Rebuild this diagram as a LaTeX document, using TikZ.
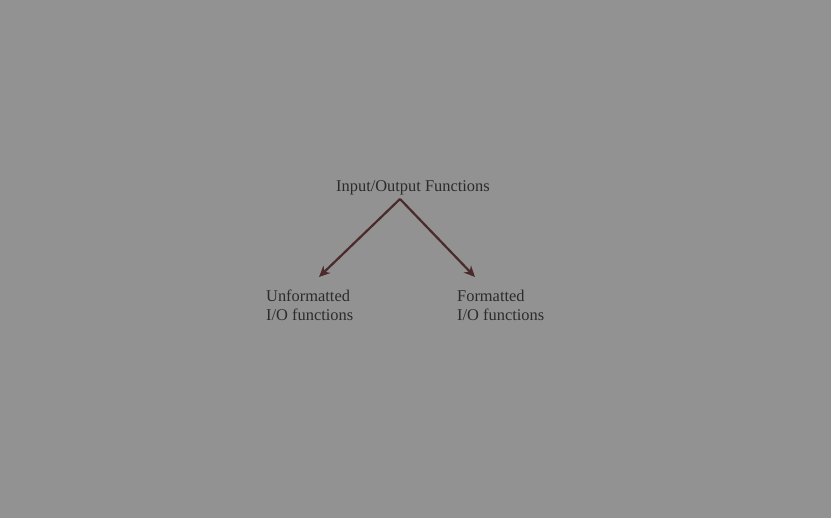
\documentclass[tikz,border=0pt]{standalone}
\usepackage{fontspec}
\setmainfont{Liberation Serif}
\usetikzlibrary{arrows.meta}
\definecolor{bg}{HTML}{929292}
\definecolor{txt}{HTML}{2B2B2B}
\definecolor{arr}{HTML}{4A2A2C}
\begin{document}
\begin{tikzpicture}[x=1pt,y=-1pt,
  lbl/.style={inner sep=0pt,text=txt,font=\fontsize{16.4}{18.5}\selectfont,align=left},
  conn/.style={draw=arr,line width=2.2pt,-{Stealth[length=11pt,width=10pt,inset=3.5pt]}}]
\fill[bg] (0,0) rectangle (831,518);
\useasboundingbox (0,0) rectangle (831,518);
\node[lbl,anchor=base west] (top) at (336,192) {Input/Output Functions};
\coordinate (apex) at (400,199);
\node[lbl,anchor=base west] (left) at (266,320.5) {Unformatted\\I/O functions};
\node[lbl,anchor=base west] (right) at (457,320.5) {Formatted\\I/O functions};
\coordinate (lt) at (319,277);
\coordinate (rt) at (475,277);
\draw[conn] (apex) -- (lt);
\draw[conn] (apex) -- (rt);
\end{tikzpicture}
\end{document}
